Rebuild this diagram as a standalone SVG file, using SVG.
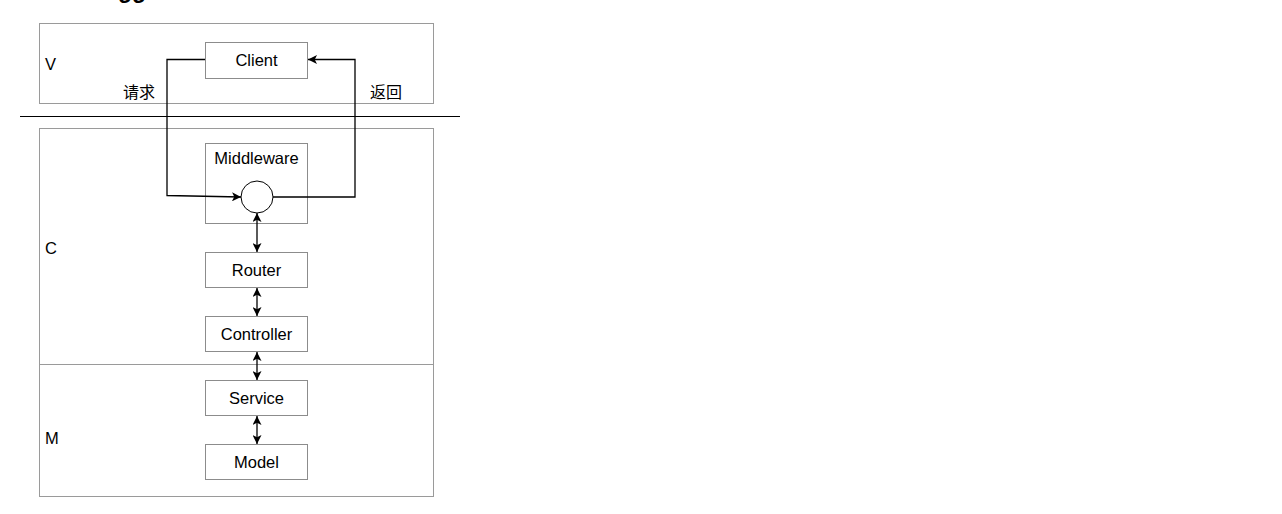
<svg xmlns="http://www.w3.org/2000/svg" width="1282" height="514" viewBox="0 0 1282 514">
<defs>
<marker id="arr" viewBox="0 0 10 10" refX="10" refY="5" markerWidth="9" markerHeight="9" markerUnits="userSpaceOnUse" orient="auto-start-reverse">
<path d="M0,0 L10,5 L0,10 L2.5,5 Z" fill="#000"/>
</marker>
</defs>
<style>
.bg{fill:#fff}
.zone{fill:none;stroke:#9a9a9a;stroke-width:1}
.node{fill:#fff;stroke:#8c8c8c;stroke-width:1}
.t{font-family:"Liberation Sans",Arial,sans-serif;font-size:16.5px;fill:#000}
.c{text-anchor:middle}
.cjk{font-family:"Liberation Sans","Noto Sans CJK SC",sans-serif;font-size:16px;fill:#000}
.edge{fill:none;stroke:#000;stroke-width:1.3}
</style>
<rect class="bg" x="0" y="0" width="1282" height="514"/>
<text class="t" x="118" y="-2" style="font-size:23px;font-weight:bold">gg</text>
<g id="zone-v">
<rect class="zone" x="39.5" y="23.5" width="394" height="80"/>
<text class="t" x="45" y="70">V</text>
</g>
<line x1="20" y1="116.5" x2="460" y2="116.5" stroke="#000" stroke-width="1"/>
<g id="zone-c">
<rect class="zone" x="39.5" y="128.5" width="394" height="236"/>
<text class="t" x="45" y="254">C</text>
</g>
<g id="zone-m">
<rect class="zone" x="39.5" y="364.5" width="394" height="132"/>
<text class="t" x="45" y="444">M</text>
</g>
<g id="client">
<rect class="node" x="205.5" y="42.5" width="102" height="36"/>
<text class="t c" x="256.5" y="66">Client</text>
</g>
<g id="middleware">
<rect class="node" x="205.5" y="143.5" width="102" height="80"/>
<text class="t c" x="256.5" y="164">Middleware</text>
</g>
<g id="hub">
<circle cx="257" cy="197" r="16" fill="#fff" stroke="#000" stroke-width="1"/>
</g>
<g id="router">
<rect class="node" x="205.5" y="252.5" width="102" height="35"/>
<text class="t c" x="256.5" y="276">Router</text>
</g>
<g id="controller">
<rect class="node" x="205.5" y="316.5" width="102" height="35"/>
<text class="t c" x="256.5" y="340">Controller</text>
</g>
<g id="service">
<rect class="node" x="205.5" y="380.5" width="102" height="35"/>
<text class="t c" x="256.5" y="404">Service</text>
</g>
<g id="model">
<rect class="node" x="205.5" y="444.5" width="102" height="35"/>
<text class="t c" x="256.5" y="468">Model</text>
</g>
<g id="connectors">
<polyline class="edge" points="205,59.5 167,59.5 167,195.5 241,197" marker-end="url(#arr)"/>
<polyline class="edge" points="273,197 355,197 355,59.5 308,59.5" marker-end="url(#arr)"/>
<line class="edge" x1="257" y1="213" x2="257" y2="252" marker-start="url(#arr)" marker-end="url(#arr)"/>
<line class="edge" x1="257" y1="288" x2="257" y2="316" marker-start="url(#arr)" marker-end="url(#arr)"/>
<line class="edge" x1="257" y1="352" x2="257" y2="380" marker-start="url(#arr)" marker-end="url(#arr)"/>
<line class="edge" x1="257" y1="416" x2="257" y2="444" marker-start="url(#arr)" marker-end="url(#arr)"/>
<text class="cjk" x="123" y="98">请求</text>
<text class="cjk" x="370" y="98">返回</text>
</g>
</svg>
